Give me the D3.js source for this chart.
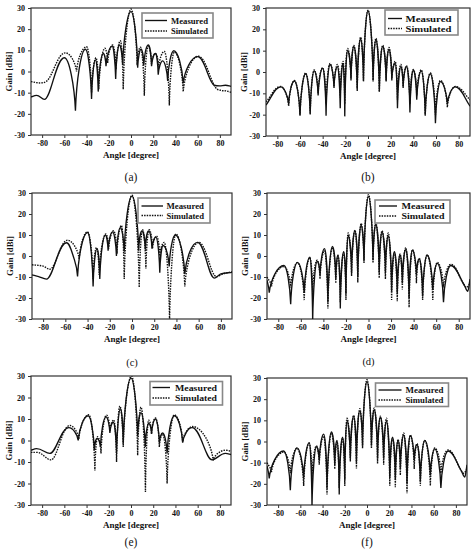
<!DOCTYPE html>
<html>
<head>
<meta charset="utf-8">
<script src="https://cdn.jsdelivr.net/npm/d3@7"></script>
<style>
  body { margin: 0; background: #fff; }
  svg text { font-family: "Liberation Serif", "Times New Roman", serif; fill: #111; }
</style>
</head>
<body>
<div class="container"></div>
<script>
// ---- data: [angle (deg), gain (dBi)] ----
var aMeasured = [[-90,-12],[-85,-11.3],[-78,-13.2],[-60,6.5],[-50,-18.5],[-41,10.5],[-35.5,-13],[-32,5.5],[-29.5,-9.5],
  [-25,8.5],[-22.5,2.5],[-17,12],[-13.8,-3.5],[-10.5,12.5],[-7.5,3],[0,28.3],[6,1.8],[9,10.5],[11.5,2.8],[15.5,12.5],
  [18.5,2.5],[22,8.5],[24.5,-1.5],[28.5,5],[33,-4.5],[38.5,9.8],[47,-5.5],[60,7],[75,-6.5],[80,-6.8],[85,-6.5],[90,-7]];
var aSimulated = [[-90,-4.8],[-82,-5.4],[-76,-4.6],[-59,8.8],[-49,0],[-40,11.7],[-35.5,-10],[-31.5,6.5],[-29,-8.5],
  [-23.5,11],[-21,4],[-16.5,12.5],[-13.5,1],[-9.5,14.5],[-7,-8.5],[0,29.5],[5.5,3],[8.5,11.5],[12,-11.5],[15.5,12],
  [18.5,3.5],[22,8.5],[25,2],[30,9.5],[34.5,-16],[39,9.2],[47,-9.5],[60.5,7.2],[76,-7.5],[82,-9],[86,-9.2],[90,-9.8]];

var bMeasured = [[-90,-15.5],[-77,-7],[-70,-15],[-65,-4.2],[-60,-20],[-55,-0.8],[-51,-19.5],[-47.5,0.5],[-44,-11],
  [-40,1.8],[-37,-20.5],[-33.5,3.5],[-30,-7],[-27,2.5],[-24.5,-17],[-22,4],[-20.5,-20.8],[-18,10],[-15,-3],[-12.5,12],
  [-9.5,-8],[-6.5,15.5],[-4,-4],[0,28.7],[4.5,-4],[7,15],[10,-9],[13,12],[16,-4],[18.5,10.5],[21,-3],[24,4],[26,-17],
  [29,2.5],[31,-7],[34,2.5],[37,-19],[40,0.8],[43,-13],[47,0.5],[50.5,-20],[55,-0.8],[59.5,-24],[64,-4.5],[70,-15],
  [77,-7],[90,-16]];
var bSimulated = [[-90,-14],[-77,-6.8],[-70,-16],[-65,-4],[-60,-20.5],[-55,-0.5],[-51,-20],[-47.5,1],[-44,-10],
  [-40,2],[-37,-15],[-33.5,4],[-30,-7.5],[-27,3.5],[-24.5,-12],[-22,5],[-20.5,-15],[-18,11],[-15,-4],[-12.5,12.5],
  [-9.5,-9],[-6.5,16.3],[-4,-4.5],[0,29],[4.5,-4.5],[7,15.8],[10,-9.5],[13,12.5],[16,-4.5],[18.5,11.5],[21,-4],[24,5],
  [26,-13],[29,3.5],[31,-7.5],[34,3],[37,-15],[40,1.2],[43,-11],[47,1],[50.5,-20.5],[55,-0.5],[59.5,-20],[64,-4],
  [70,-16.5],[77,-6.8],[90,-13]];

var cMeasured = [[-90,-9],[-84,-9.8],[-77,-11],[-59,6.3],[-52,-1.5],[-49,-9.8],[-40,11.2],[-35,-14.5],[-31.5,3.5],
  [-29,-11],[-24,10],[-21.5,2.5],[-17.5,11.5],[-14,0],[-10.5,13.5],[-7,2],[0,28.5],[6,2.5],[9,12],[12,3],[15,12],
  [18,3.5],[21.5,9],[25,-8],[28,5],[33.5,-5],[39,10],[47.5,-8.5],[59,6.5],[74,-10.5],[80,-8.5],[90,-7.8]];
var cSimulated = [[-90,-4.2],[-80,-4.8],[-74,-6.3],[-58,7.5],[-47.5,-1.5],[-40,11.5],[-35,-11],[-32,4],[-29.5,-9],
  [-23.5,10.5],[-21,3.5],[-16.5,12],[-13.5,1],[-9.5,14.5],[-7,-11],[0,29],[6.5,-15],[9.5,12.5],[12.5,-6],[15.5,12.5],
  [18.5,3.5],[22,9.5],[25,0],[29,6.5],[33.8,-31],[39.5,10.5],[47.5,-14.5],[60,6.5],[76,-9.8],[82,-8.5],[90,-7.5]];

var dMeasured = [[-90,-11.5],[-88,-17.5],[-75,-4.5],[-69,-23],[-63,-3],[-57,-17.5],[-52,-0.5],[-49.5,-31],[-45.5,-2.5],
  [-43,-9],[-39,3.5],[-36,-22],[-32,4.5],[-29,-11],[-27,0.5],[-25,-25],[-22,2],[-20,-18],[-18,9.5],[-15,-8],[-12,12],
  [-9.5,-10],[-6.5,14.5],[-4,-2],[0,28.3],[4,-2],[6.5,15],[9.5,-8],[12,11.5],[15,-8],[17.5,9.5],[20.5,-17],[23,2],
  [25.5,-18],[28,0.5],[30,-13],[33,3],[36,-20],[39,2.8],[42.5,-9],[45,-1.5],[48,-19],[52,0.5],[57,-16],[61,-3.5],
  [66.5,-22],[73,-4.5],[85,-14],[88,-16.8],[90,-11]];
var dSimulated = [[-90,-10],[-86,-14.5],[-75,-5],[-69,-15],[-63,-3.2],[-57,-21],[-52,-0.8],[-49.5,-17],[-45.5,-2],
  [-43,-11],[-39,2.5],[-36,-25],[-32,4],[-29,-13],[-27,0],[-25,-22],[-22,1.5],[-20,-21],[-18,11],[-15,-9.5],[-12,12.3],
  [-9.5,-12.7],[-6.5,15.5],[-4,-3.3],[0,29.2],[4,-3.3],[6.5,15.8],[9.5,-10.5],[12,12],[15,-11],[17.5,11],[20.5,-20.9],
  [23,1.5],[25.5,-21.6],[28,1],[30,-16],[33,4],[36,-24.5],[39,3],[42.5,-13],[45,-1],[48,-21],[52,0.5],[57,-20.9],
  [61,-3],[66.5,-15],[73,-4],[84,-13],[87,-15],[90,-13]];

var eMeasured = [[-90,-4.5],[-85,-3.8],[-73,-6],[-56,6],[-47.5,0],[-38.5,11.5],[-33,-4.5],[-30.5,1],[-27.5,-3],
  [-22.5,11],[-19,3.5],[-16,8.5],[-13,-6],[-9.5,14.8],[-7,-1.5],[0,29],[6,2],[9,13],[12.8,-3],[16,8],[18.5,3],[22,10],
  [25.5,-1],[28.5,3.5],[32.5,-6],[39,11.5],[46.5,-1],[55,6],[73,-9],[85,-6],[90,-6.5]];
var eSimulated = [[-90,-5.5],[-85,-5.5],[-72,-9],[-55,7],[-47,0.5],[-38,12],[-32.5,-14],[-30,1.8],[-27,-6],
  [-22,11.8],[-19,4.5],[-15.5,9.5],[-13,-10],[-10,16],[-7,-3],[0.5,30],[6,-7],[9,15.5],[13,-24],[16,9.5],[18.5,3],
  [22,10.5],[25.5,-3],[28.5,3],[32.5,-20],[39,12],[46.5,-0.5],[55.5,6.5],[74,-9.2],[85,-4.5],[90,-5]];

var xTicks = [-80, -60, -40, -20, 0, 20, 40, 60, 80];
var yTicks = [-30, -20, -10, 0, 10, 20, 30];
var seriesNames = ["Measured", "Simulated"];
var panelTags = ["(a)", "(b)", "(c)", "(d)", "(e)", "(f)"];

// ---- layout (pixels) ----
const WIDTH = 474, HEIGHT = 557;
var panels = [
  {meas: aMeasured, sim: aSimulated, plot: [31, 231, 8, 135],
   leg: {box: [142, 13, 213, 38], line: [145, 167], rows: [20.5, 31], tx: 171, tw: 37}, tagY: 181, tagFont: "serif"},
  {meas: bMeasured, sim: bSimulated, plot: [266, 470, 8, 136],
   leg: {box: [385, 10, 458, 35], line: [388, 402], rows: [18.5, 28.5], tx: 405.5, tw: 46}, tagY: 181, tagFont: "serif"},
  {meas: cMeasured, sim: cSimulated, plot: [32, 232, 193, 319],
   leg: {box: [138, 198, 210, 223], line: [141.5, 163], rows: [206, 215.5], tx: 166.5, tw: 37.5}, tagY: 366, tagFont: "sans"},
  {meas: dMeasured, sim: dSimulated, plot: [267, 470, 193, 319],
   leg: {box: [375, 200, 450, 223], line: [379, 397], rows: [206, 216], tx: 401.5, tw: 43}, tagY: 365, tagFont: "sans"},
  {meas: eMeasured, sim: eSimulated, plot: [31, 231, 376, 505],
   leg: {box: [150, 381.5, 222.5, 405], line: [152.5, 170], rows: [387.5, 398], tx: 175, tw: 42}, tagY: 546, tagFont: "serif"},
  {meas: dMeasured, sim: dSimulated, plot: [267, 467, 378, 505],
   leg: {box: [375.5, 383, 448.5, 406.5], line: [378.5, 401.5], rows: [390, 400], tx: 405.5, tw: 38}, tagY: 546, tagFont: "serif"}
];

// lobe-shaped curve: rounded peaks, sharp nulls
function curveLobe(context) {
  var pts = [];
  function ctrl(i, j) {
    var n = pts.length, p = pts[i], q = pts[j];
    var dx = q[0] - p[0];
    if (i === 0 || i === n - 1) return [p[0] + dx / 3, p[1] + (q[1] - p[1]) / 3];
    var a = pts[i - 1], b = pts[i + 1];
    var isMax = p[1] <= a[1] && p[1] <= b[1];
    var isMin = p[1] >= a[1] && p[1] >= b[1];
    if (isMax) return [p[0] + dx * 0.42, p[1]];
    if (isMin) {
      if (Math.min(p[1] - a[1], p[1] - b[1]) > 8) return [p[0] + dx * 0.1, p[1] + (q[1] - p[1]) * 0.5];
      return [p[0] + dx / 3, p[1]];
    }
    var s0 = (p[1] - a[1]) / (p[0] - a[0]), s1 = (b[1] - p[1]) / (b[0] - p[0]);
    var m = (b[1] - a[1]) / (b[0] - a[0]);
    var lim = 3 * Math.min(Math.abs(s0), Math.abs(s1));
    if (Math.abs(m) > lim) m = Math.sign(m) * lim;
    return [p[0] + dx / 3, p[1] + m * dx / 3];
  }
  return {
    areaStart: function () {}, areaEnd: function () {},
    lineStart: function () { pts = []; },
    point: function (x, y) { pts.push([+x, +y]); },
    lineEnd: function () {
      if (!pts.length) return;
      context.moveTo(pts[0][0], pts[0][1]);
      for (var i = 0; i < pts.length - 1; i++) {
        var c1 = ctrl(i, i + 1), c2 = ctrl(i + 1, i);
        context.bezierCurveTo(c1[0], c1[1], c2[0], c2[1], pts[i + 1][0], pts[i + 1][1]);
      }
    }
  };
}

var svg = d3.select('.container').append('svg')
  .attr('width', WIDTH)
  .attr('height', HEIGHT);

panels.forEach(function (p, k) {
  var x0 = p.plot[0], x1 = p.plot[1], y0 = p.plot[2], y1 = p.plot[3];
  var xScale = d3.scaleLinear().domain([-90, 90]).range([x0, x1]);
  var yScale = d3.scaleLinear().domain([-30, 30]).range([y1, y0]);
  var g = svg.append('g');

  g.append('clipPath').attr('id', 'clip' + k)
    .append('rect').attr('x', x0).attr('y', y0).attr('width', x1 - x0).attr('height', y1 - y0);

  var xAxis = d3.axisBottom(xScale).tickValues(xTicks).tickSize(3).tickPadding(2).tickFormat(String);
  var yAxis = d3.axisLeft(yScale).tickValues(yTicks).tickSize(3).tickPadding(3).tickFormat(String);

  var gx = g.append('g').attr('transform', 'translate(0,' + y1 + ')').call(xAxis);
  var gy = g.append('g').attr('transform', 'translate(' + x0 + ',0)').call(yAxis);
  [gx, gy].forEach(function (ax) {
    ax.select('.domain').remove();
    ax.selectAll('.tick line').attr('stroke', '#333');
    ax.selectAll('.tick text').attr('font-family', '"Liberation Serif", serif')
      .attr('font-weight', 'bold').attr('font-size', 8).attr('fill', '#111');
  });

  g.append('rect').attr('x', x0).attr('y', y0).attr('width', x1 - x0).attr('height', y1 - y0)
    .attr('fill', 'none').attr('stroke', '#333').attr('stroke-width', 1.2);

  var line = d3.line()
    .x(function (d) { return xScale(d[0]); })
    .y(function (d) { return yScale(d[1]); })
    .curve(curveLobe);

  var lines = g.append('g').attr('clip-path', 'url(#clip' + k + ')');
  lines.append('path').datum(p.sim).attr('d', line)
    .attr('fill', 'none').attr('stroke', '#111').attr('stroke-width', 1.4).attr('stroke-dasharray', '1.5,1.1');
  lines.append('path').datum(p.meas).attr('d', line)
    .attr('fill', 'none').attr('stroke', '#111').attr('stroke-width', 1.35);

  // axis titles
  g.append('text')
    .attr('transform', 'translate(' + (x0 - 19) + ',' + ((y0 + y1) / 2) + ') rotate(-90)')
    .attr('text-anchor', 'middle').attr('font-weight', 'bold').attr('font-size', 8.8)
    .text('Gain [dBi]');
  g.append('text')
    .attr('x', (x0 + x1) / 2).attr('y', y1 + 23)
    .attr('text-anchor', 'middle').attr('font-weight', 'bold').attr('font-size', 9)
    .text('Angle [degree]');

  // legend
  var L = p.leg;
  g.append('rect').attr('x', L.box[0]).attr('y', L.box[1])
    .attr('width', L.box[2] - L.box[0]).attr('height', L.box[3] - L.box[1])
    .attr('fill', '#fff').attr('stroke', '#888').attr('stroke-width', 1.6);
  seriesNames.forEach(function (name, i) {
    g.append('line').attr('x1', L.line[0]).attr('x2', L.line[1])
      .attr('y1', L.rows[i]).attr('y2', L.rows[i])
      .attr('stroke', '#111').attr('stroke-width', i ? 1.4 : 1.35)
      .attr('stroke-dasharray', i ? '1.5,1.1' : null);
    g.append('text').attr('x', L.tx).attr('y', L.rows[i] + 3)
      .attr('font-weight', 'bold').attr('font-size', 8.8)
      .attr('textLength', L.tw).attr('lengthAdjust', 'spacingAndGlyphs')
      .text(name);
  });

  // panel tag
  g.append('text')
    .attr('x', (x0 + x1) / 2).attr('y', p.tagY)
    .attr('text-anchor', 'middle')
    .attr('font-size', p.tagFont === 'sans' ? 10.5 : 11.5)
    .attr('font-family', p.tagFont === 'sans' ? '"Noto Sans", sans-serif' : '"Liberation Serif", serif')
    .text(panelTags[k]);
});
</script>
</body>
</html>
